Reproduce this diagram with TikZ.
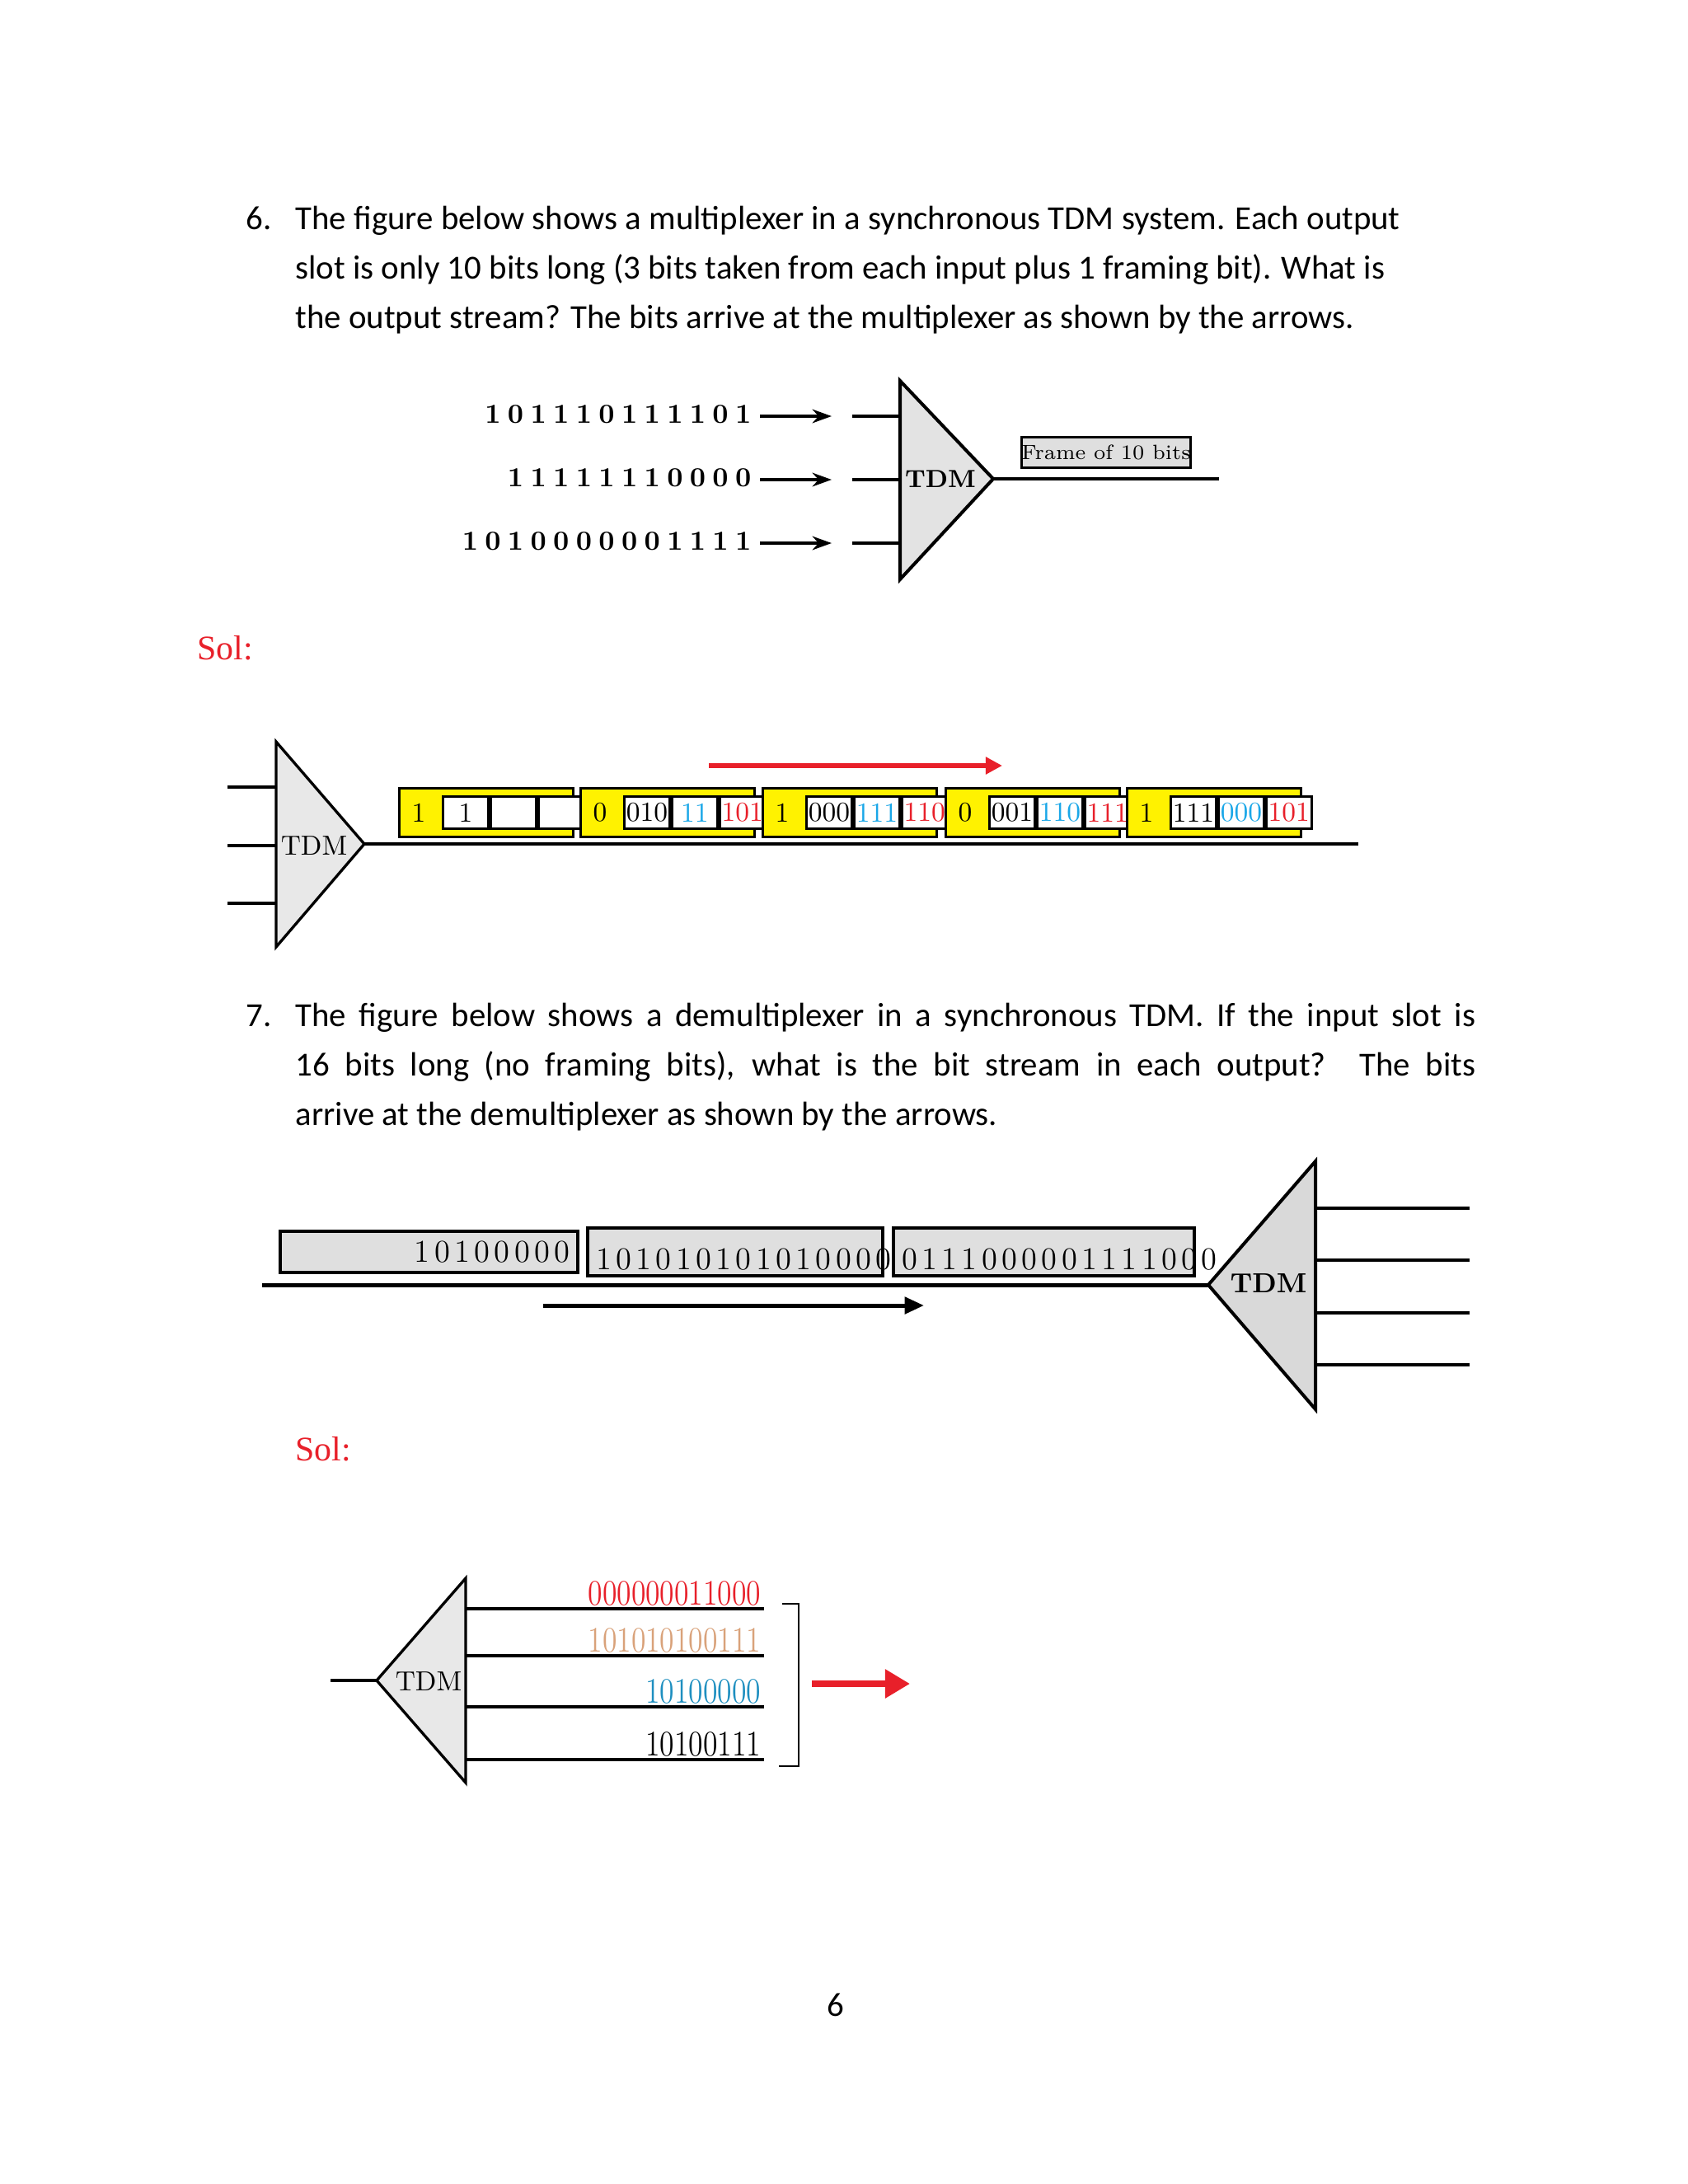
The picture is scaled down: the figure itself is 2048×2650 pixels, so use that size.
\documentclass[tikz,border=0pt]{standalone}
\usepackage{fontspec}
\setmainfont{Latin Modern Roman}
\newfontfamily\bodyf{Carlito}
\newfontfamily\timesf{Liberation Serif}
\usetikzlibrary{arrows.meta}
\definecolor{myred}{HTML}{E8202A}
\definecolor{myblue}{HTML}{1AA7E8}
\definecolor{mytan}{HTML}{D9A27A}
\definecolor{myteal}{HTML}{1E8FC0}
\definecolor{myyel}{HTML}{FFF200}
\tikzset{
 body/.style={anchor=base west,inner sep=0pt,font=\bodyf\fontsize{12.2}{14}\selectfont},
 tri/.style={draw=black,line width=1.2pt,fill=gray!22},
 ln/.style={line width=1pt},
 bits/.style={anchor=base east,inner sep=0pt,font=\bfseries\fontsize{10}{12}\selectfont\addfontfeatures{LetterSpace=25}},
 ybox/.style={draw=black,line width=1pt,fill=myyel,minimum width=63pt,minimum height=17.5pt,inner sep=0pt},
 cell/.style={draw=black,line width=0.8pt,fill=white,minimum width=16.5pt,minimum height=11.6pt,inner sep=0pt,font=\fontsize{10}{12}\selectfont},
 gbox/.style={draw=black,line width=1.2pt,fill=gray!25,minimum height=15pt,inner sep=2pt,anchor=west,font=\fontsize{11.5}{13}\selectfont\addfontfeatures{LetterSpace=14}},
 outtxt/.style={anchor=base east,inner sep=0pt,font=\fontsize{13}{14}\selectfont},
 sol/.style={anchor=base west,inner sep=0pt,font=\timesf\fontsize{12.5}{14}\selectfont,text=myred},
}
\begin{document}
\begin{tikzpicture}[x=0.2988pt,y=-0.2988pt]
\useasboundingbox (0,0) rectangle (2048,2650);
\fill[white] (0,0) rectangle (2048,2650);
% Problem 6 text
\node[body] (n6) at (298,278) {6.};
\node[body] (t61) at (358,278) {The figure below shows a multiplexer in a synchronous TDM system. Each output};
\node[body] (t62) at (358,338) {slot is only 10 bits long (3 bits taken from each input plus 1 framing bit). What is};
\node[body] (t63) at (358,398) {the output stream? The bits arrive at the multiplexer as shown by the arrows.};
% Top figure
\coordinate (a1) at (1092,462); \coordinate (a2) at (1092,703); \coordinate (a3) at (1205,581);
\draw[tri] (a1) -- (a2) -- (a3) -- cycle;
\node[font=\bfseries\fontsize{9}{10}\selectfont] (tdm1) at (1141,581) {TDM};
\foreach \y/\s/\i in {505/101110111101/1,582/11111110000/2,659/1010000001111/3}{
 \node[bits] (b\i) at (912,\y+8) {\s};
 \coordinate (as\i) at (922,\y); \coordinate (ae\i) at (1009,\y);
 \draw[ln,-{Stealth[length=7pt,width=5pt]}] (as\i) -- (ae\i);
 \coordinate (ls\i) at (1034,\y); \coordinate (le\i) at (1092,\y);
 \draw[ln] (ls\i) -- (le\i);
}
\coordinate (o1) at (1479,581);
\draw[ln] (a3) -- (o1);
\node[draw=black,line width=0.8pt,fill=gray!25,minimum width=59pt,minimum height=11pt,inner sep=0pt,font=\fontsize{7.5}{9}\selectfont] (fr) at (1342,549) {Frame of 10 bits};
% Sol
\node[sol] (sol1) at (239,800) {Sol:};
\coordinate (s1) at (335,900); \coordinate (s2) at (335,1149); \coordinate (s3) at (442,1024);
\draw[draw=black,line width=1pt,fill=gray!18] (s1) -- (s2) -- (s3) -- cycle;
\node[font=\fontsize{10}{12}\selectfont] (tdm2) at (381,1026) {TDM};
\foreach \y/\i in {955/1,1026/2,1096/3}{
 \coordinate (si\i) at (276,\y); \coordinate (sj\i) at (335,\y);
 \draw[ln] (si\i) -- (sj\i);
}
\coordinate (so) at (1648,1024);
\draw[ln] (s3) -- (so);
\coordinate (ra) at (860,929); \coordinate (rb) at (1216,929);
\draw[myred,line width=1.6pt,-{Triangle[length=6pt,width=6pt]}] (ra) -- (rb);
\foreach \x/\f/\p/\q/\r/\k in {
 590/1/1/{}/{}/1,
 810/0/010/11/101/2,
 1031/1/000/111/110/3,
 1253/0/001/110/111/4,
 1473/1/111/000/101/5}{
 \node[ybox] (y\k) at (\x,986) {};
 \node[font=\fontsize{10}{12}\selectfont,inner sep=0pt] (f\k) at (\x-82,986) {\f};
 \node[cell] (c\k a) at (\x-25,986) {\p};
 \node[cell,anchor=west,text=myblue] (c\k b) at (c\k a.east) {\q};
 \node[cell,anchor=west,text=myred] (c\k c) at (c\k b.east) {\r};
}
% Problem 7 text
\node[body] (n7) at (298,1245) {7.};
\node[body] (t71) at (358,1245) {\makebox[427.8pt][s]{The figure below shows a demultiplexer in a synchronous TDM. If the input slot is}};
\node[body] (t72) at (358,1305) {\makebox[427.8pt][s]{16 bits long (no framing bits), what is the bit stream in each output? The bits}};
\node[body] (t73) at (358,1365) {arrive at the demultiplexer as shown by the arrows.};
% Figure 7
\coordinate (d1) at (1466,1559); \coordinate (d2) at (1596,1409); \coordinate (d3) at (1596,1710);
\draw[tri,fill=gray!30] (d1) -- (d2) -- (d3) -- cycle;
\node[font=\bfseries\fontsize{10}{12}\selectfont] (tdm3) at (1539,1557) {TDM};
\coordinate (dl) at (318,1559);
\draw[line width=1.5pt] (dl) -- (d1);
\node[gbox,minimum width=108pt,align=right,text width=102pt] (g1) at (338,1519) {\hfill10100000};
\node[gbox,minimum width=107pt,align=right,text width=101pt] (g2) at (711,1519) {\hfill1010101010100001};
\node[gbox,minimum width=109pt,align=right,text width=103pt] (g3) at (1082,1519) {\hfill0111000001111000};
\coordinate (da) at (659,1584); \coordinate (db) at (1121,1584);
\draw[line width=1.5pt,-{Triangle[length=7pt,width=6pt]}] (da) -- (db);
\foreach \y/\i in {1466/1,1529/2,1593/3,1656/4}{
 \coordinate (dd\i) at (1596,\y); \coordinate (de\i) at (1783,\y);
 \draw[line width=1.4pt] (dd\i) -- (de\i);
}
% Sol 7
\node[sol] (sol2) at (358,1772) {Sol:};
\coordinate (e1) at (457,2039); \coordinate (e2) at (565,1915); \coordinate (e3) at (565,2163);
\draw[draw=black,line width=1pt,fill=gray!18] (e1) -- (e2) -- (e3) -- cycle;
\node[font=\fontsize{10}{12}\selectfont] (tdm4) at (520,2040) {TDM};
\coordinate (ei) at (401,2039);
\draw[ln] (ei) -- (e1);
\foreach \y/\s/\c/\i in {1952/000000011000/myred/1,2009/101010100111/mytan/2,2071/10100000/myteal/3,2135/10100111/black/4}{
 \coordinate (ea\i) at (565,\y); \coordinate (eb\i) at (927,\y);
 \draw[ln] (ea\i) -- (eb\i);
 \node[outtxt,text=\c] (et\i) at (924,\y-5) {\scalebox{0.82}[1]{\s}};
}
\coordinate (k1) at (949,1946); \coordinate (k2) at (969,1946); \coordinate (k3) at (969,2143); \coordinate (k4) at (945,2143);
\draw[line width=0.8pt] (k1) -- (k2) -- (k3) -- (k4);
\coordinate (ka) at (985,2043); \coordinate (kb) at (1104,2043);
\draw[myred,line width=2.6pt,-{Triangle[length=9pt,width=10pt]}] (ka) -- (kb);
% page number
\node[body,anchor=base] (pg) at (1014,2446) {6};
\end{tikzpicture}
\end{document}
